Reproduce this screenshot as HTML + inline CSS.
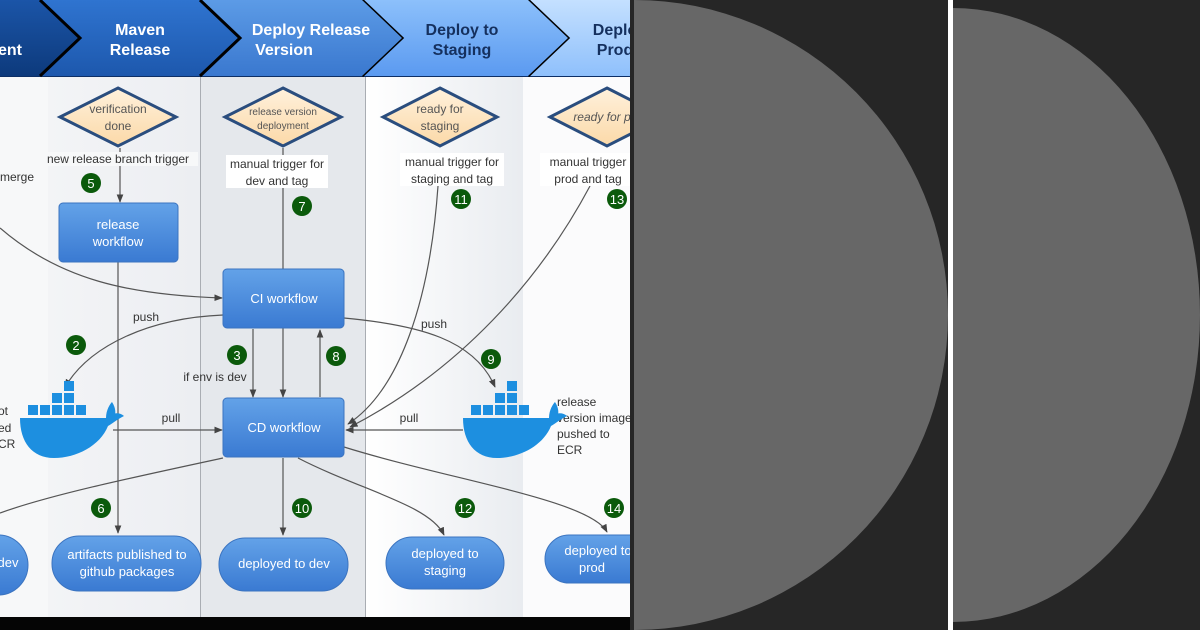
<!DOCTYPE html>
<html><head><meta charset="utf-8"><style>
html,body{margin:0;padding:0;background:#262626;}
svg{display:block;font-family:"Liberation Sans",Arial,sans-serif;}
</style></head><body>
<svg width="1200" height="630" viewBox="0 0 1200 630" xmlns="http://www.w3.org/2000/svg">
<defs>
<clipPath id="cl"><rect x="0" y="0" width="630" height="630"/></clipPath>
<linearGradient id="h1" x1="0" y1="0" x2="0" y2="1"><stop offset="0" stop-color="#1b55a8"/><stop offset="1" stop-color="#0d3a7c"/></linearGradient>
<linearGradient id="h2" x1="0" y1="0" x2="0" y2="1"><stop offset="0" stop-color="#2f74d0"/><stop offset="1" stop-color="#1d58ad"/></linearGradient>
<linearGradient id="h3" x1="0" y1="0" x2="0" y2="1"><stop offset="0" stop-color="#5c9be6"/><stop offset="1" stop-color="#3a78cf"/></linearGradient>
<linearGradient id="h4" x1="0" y1="0" x2="0" y2="1"><stop offset="0" stop-color="#8cc0fb"/><stop offset="1" stop-color="#5b9af0"/></linearGradient>
<linearGradient id="h5" x1="0" y1="0" x2="0" y2="1"><stop offset="0" stop-color="#c4e0ff"/><stop offset="1" stop-color="#8fc0fb"/></linearGradient>
<linearGradient id="box" x1="0" y1="0" x2="0" y2="1"><stop offset="0" stop-color="#63a2e8"/><stop offset="1" stop-color="#3a7ad2"/></linearGradient>
<linearGradient id="dia" x1="0" y1="0" x2="0" y2="1"><stop offset="0" stop-color="#fff1dc"/><stop offset="1" stop-color="#fbd9a8"/></linearGradient>
<linearGradient id="l4" x1="0" y1="0" x2="1" y2="0"><stop offset="0" stop-color="#ffffff"/><stop offset="1" stop-color="#e9ecf0"/></linearGradient>
<linearGradient id="l2" x1="0" y1="0" x2="1" y2="0"><stop offset="0" stop-color="#f3f4f6"/><stop offset="1" stop-color="#eceef2"/></linearGradient>
<marker id="ar" viewBox="0 0 10 10" refX="9" refY="5" markerWidth="7" markerHeight="7" orient="auto"><path d="M0,1 L10,5 L0,9 z" fill="#444"/></marker>
<g id="whale">
<path d="M0,28 H86 C92,22 100,22 104,26 C96,30 92,34 88,36 C80,56 56,68 34,68 C12,68 0,52 0,28 Z" fill="#1d8fe0"/>
<rect x="8" y="15" width="10" height="10" fill="#1d8fe0"/><rect x="20" y="15" width="10" height="10" fill="#1d8fe0"/><rect x="32" y="15" width="10" height="10" fill="#1d8fe0"/><rect x="44" y="15" width="10" height="10" fill="#1d8fe0"/><rect x="56" y="15" width="10" height="10" fill="#1d8fe0"/>
<rect x="32" y="3" width="10" height="10" fill="#1d8fe0"/><rect x="44" y="3" width="10" height="10" fill="#1d8fe0"/><rect x="44" y="-9" width="10" height="10" fill="#1d8fe0"/>
<path d="M86,28 C86,20 90,14 92,12 C96,18 96,24 94,28 Z" fill="#1d8fe0"/>
</g>
</defs>

<!-- right dark area -->
<rect x="630" y="0" width="570" height="630" fill="#262626"/>
<path d="M634,0 A314,315 0 0 1 634,630 Z" fill="#676767"/>
<rect x="948" y="0" width="5" height="630" fill="#ffffff"/>
<path d="M953,8 A247,307 0 0 1 953,622 Z" fill="#676767"/>

<g clip-path="url(#cl)">
<!-- lanes -->
<rect x="0" y="76" width="630" height="542" fill="#f7f8f9"/>
<rect x="48" y="76" width="152" height="542" fill="url(#l2)"/>
<rect x="200" y="76" width="165" height="542" fill="#e5e8ec"/>
<line x1="200.5" y1="76" x2="200.5" y2="618" stroke="#a9adb3"/>
<line x1="365.5" y1="76" x2="365.5" y2="618" stroke="#a9adb3"/>
<rect x="366" y="76" width="157" height="542" fill="url(#l4)"/>
<rect x="523" y="76" width="107" height="542" fill="#fbfbfc"/>
<rect x="0" y="617" width="630" height="13" fill="#050505"/>

<!-- header chevrons -->
<rect x="0" y="0" width="630" height="77" fill="#0d2f66"/>
<path d="M528,0 H700 V76 H528 L568,38 Z" fill="url(#h5)"/>
<path d="M528,0 L568,38 L528,76" fill="none" stroke="#000" stroke-width="3"/>
<path d="M362,0 H528 L568,38 L528,76 H362 L402,38 Z" fill="url(#h4)"/>
<path d="M362,0 L402,38 L362,76" fill="none" stroke="#000" stroke-width="3"/>
<path d="M200,0 H362 L402,38 L362,76 H200 L240,38 Z" fill="url(#h3)"/>
<path d="M42,0 H200 L240,38 L200,76 H42 L80,38 Z" fill="url(#h2)"/>
<path d="M-20,0 H40 L79,38 L40,76 H-20 Z" fill="url(#h1)"/>
<path d="M200,0 L240,38 L200,76" fill="none" stroke="#000" stroke-width="3"/>
<path d="M40,0 L80,38 L40,76" fill="none" stroke="#000" stroke-width="3"/>
<g font-weight="bold" font-size="16" text-anchor="middle">
<text x="10" y="55" fill="#fff">ent</text>
<text x="140" y="35" fill="#fff">Maven</text><text x="140" y="55" fill="#fff">Release</text>
<text x="311" y="35" fill="#fff">Deploy Release</text><text x="284" y="55" fill="#fff">Version</text>
<text x="462" y="35" fill="#15305e">Deploy to</text><text x="462" y="55" fill="#15305e">Staging</text>
<text x="615" y="35" fill="#15305e">Deplo</text><text x="615" y="55" fill="#15305e">Prod</text>
</g>

<!-- diamonds -->
<g stroke="#2a4d7e" stroke-width="3" fill="url(#dia)">
<path d="M118,88 L176,117 L118,146 L60,117 Z"/>
<path d="M283,88 L341,117 L283,146 L225,117 Z"/>
<path d="M440,88 L497,117 L440,146 L383,117 Z"/>
<path d="M607,88 L664,117 L607,146 L550,117 Z"/>
</g>
<g font-size="12" fill="#555" text-anchor="middle">
<text x="118" y="113">verification</text><text x="118" y="130">done</text>
<text x="283" y="115" font-size="10">release version</text><text x="283" y="129" font-size="10">deployment</text>
<text x="440" y="113">ready for</text><text x="440" y="130">staging</text>
<text x="602" y="121" font-style="italic">ready for p</text>
</g>

<!-- connectors -->
<g stroke="#555" stroke-width="1.2" fill="none">
<line x1="120" y1="148" x2="120" y2="202" marker-end="url(#ar)"/>
<line x1="118" y1="262" x2="118" y2="533" marker-end="url(#ar)"/>
<line x1="283" y1="148" x2="283" y2="397" marker-end="url(#ar)"/>
<path d="M0,228 C60,280 130,295 222,298" marker-end="url(#ar)"/>
<path d="M223,315 C150,318 90,345 65,387" marker-end="url(#ar)"/>
<line x1="253" y1="329" x2="253" y2="397" marker-end="url(#ar)"/>
<line x1="320" y1="397" x2="320" y2="330" marker-end="url(#ar)"/>
<line x1="113" y1="430" x2="222" y2="430" marker-end="url(#ar)"/>
<line x1="463" y1="430" x2="346" y2="430" marker-end="url(#ar)"/>
<path d="M344,318 C420,325 475,340 495,387" marker-end="url(#ar)"/>
<path d="M438,186 C430,300 400,390 348,424" marker-end="url(#ar)"/>
<path d="M590,186 C540,280 460,370 350,427" marker-end="url(#ar)"/>
<path d="M223,458 C130,478 50,495 0,513"/>
<line x1="283" y1="458" x2="283" y2="535" marker-end="url(#ar)"/>
<path d="M298,458 C360,490 430,505 444,535" marker-end="url(#ar)"/>
<path d="M344,447 C450,480 590,500 607,532" marker-end="url(#ar)"/>
</g>

<!-- labels -->
<g font-size="12" fill="#333" text-anchor="middle">
<rect x="40" y="152" width="158" height="14" fill="#f7f8f9"/>
<text x="118" y="163">new release branch trigger</text>
<text x="17" y="181">merge</text>
<rect x="226" y="155" width="102" height="33" fill="#fff"/>
<text x="277" y="168">manual trigger for</text><text x="277" y="185">dev and tag</text>
<rect x="400" y="153" width="104" height="33" fill="#fff"/>
<text x="452" y="166">manual trigger for</text><text x="452" y="183">staging and tag</text>
<rect x="540" y="153" width="90" height="33" fill="#fff"/>
<text x="588" y="166">manual trigger</text><text x="588" y="183">prod and tag</text>
<text x="146" y="321">push</text>
<text x="434" y="328">push</text>
<text x="171" y="422">pull</text>
<text x="409" y="422">pull</text>
<text x="215" y="381">if env is dev</text>
<g text-anchor="start"><text x="557" y="406">release</text><text x="557" y="422">version image</text><text x="557" y="438">pushed to</text><text x="557" y="454">ECR</text>
<text x="-2" y="415">ot</text><text x="-2" y="432">ed</text><text x="-2" y="448">CR</text></g>
</g>

<!-- boxes -->
<g fill="url(#box)" stroke="#3b74c0" stroke-width="1">
<rect x="59" y="203" width="119" height="59" rx="4"/>
<rect x="223" y="269" width="121" height="59" rx="4"/>
<rect x="223" y="398" width="121" height="59" rx="4"/>
<rect x="-40" y="535" width="68" height="60" rx="30"/>
<rect x="52" y="536" width="149" height="55" rx="27"/>
<rect x="219" y="538" width="129" height="53" rx="26"/>
<rect x="386" y="537" width="118" height="52" rx="26"/>
<rect x="545" y="535" width="120" height="48" rx="24"/>
</g>
<g font-size="13" fill="#fff" text-anchor="middle">
<text x="118" y="229">release</text><text x="118" y="246">workflow</text>
<text x="284" y="303">CI workflow</text>
<text x="284" y="432">CD workflow</text>
<text x="8" y="567">dev</text>
<text x="127" y="559">artifacts published to</text><text x="127" y="576">github packages</text>
<text x="284" y="568">deployed to dev</text>
<text x="445" y="558">deployed to</text><text x="445" y="575">staging</text>
<text x="598" y="555">deployed to</text><text x="592" y="572">prod</text>
</g>

<!-- whales -->
<use href="#whale" x="20" y="390"/>
<use href="#whale" x="463" y="390"/>

<!-- step circles -->
<g fill="#0b5a0b">
<circle cx="91" cy="183" r="10"/><circle cx="302" cy="206" r="10"/><circle cx="461" cy="199" r="10"/><circle cx="617" cy="199" r="10"/>
<circle cx="76" cy="345" r="10"/><circle cx="237" cy="355" r="10"/><circle cx="336" cy="356" r="10"/><circle cx="491" cy="359" r="10"/>
<circle cx="101" cy="508" r="10"/><circle cx="302" cy="508" r="10"/><circle cx="465" cy="508" r="10"/><circle cx="614" cy="508" r="10"/>
</g>
<g font-size="13" fill="#fff" text-anchor="middle">
<text x="91" y="188">5</text><text x="302" y="211">7</text><text x="461" y="204">11</text><text x="617" y="204">13</text>
<text x="76" y="350">2</text><text x="237" y="360">3</text><text x="336" y="361">8</text><text x="491" y="364">9</text>
<text x="101" y="513">6</text><text x="302" y="513">10</text><text x="465" y="513">12</text><text x="614" y="513">14</text>
</g>
</g>
</svg>
</body></html>
